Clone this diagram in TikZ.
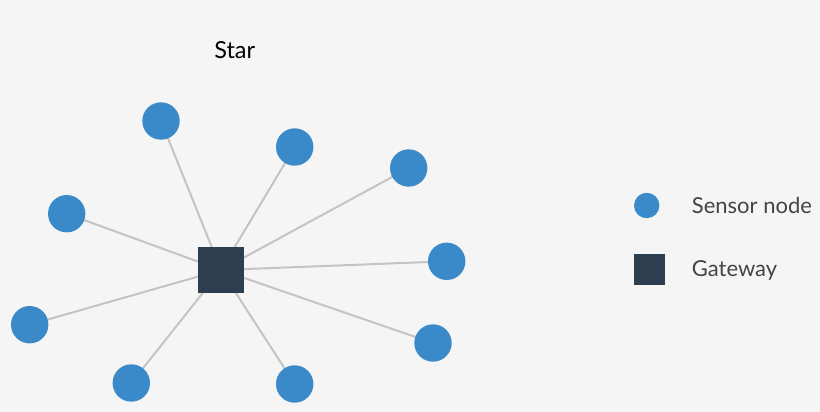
\documentclass[tikz,border=0pt]{standalone}
\usepackage{fontspec}
\setmainfont{Lato}
\definecolor{bg}{HTML}{F5F5F5}
\definecolor{sensor}{HTML}{3A89C9}
\definecolor{gw}{HTML}{2C3E50}
\definecolor{link}{HTML}{C4C4C4}
\definecolor{legtext}{HTML}{444444}
\tikzset{
  sensornode/.style={circle, fill=sensor, draw=none, minimum size=37.4pt, inner sep=0pt},
  gatewaynode/.style={rectangle, fill=gw, draw=none, minimum size=46.6pt, inner sep=0pt},
  legsensor/.style={circle, fill=sensor, draw=none, minimum size=25.4pt, inner sep=0pt},
  leggateway/.style={rectangle, fill=gw, draw=none, minimum size=30.7pt, inner sep=0pt},
  linkline/.style={draw=link, line width=2pt},
  legendlabel/.style={anchor=base west, inner sep=0pt, text=legtext, font=\fontsize{22pt}{26pt}\selectfont},
  titlelabel/.style={anchor=base, inner sep=0pt, text=black, font=\fontsize{23.5pt}{28pt}\selectfont}
}
\begin{document}
\begin{tikzpicture}[x=1pt,y=-1pt]
\fill[bg] (0,0) rectangle (820,412);
\useasboundingbox (0,0) rectangle (820,412);
\node[titlelabel] (title) at (234.7,58.3) {Star};
\coordinate (gc) at (221,270);
\coordinate (c1) at (161,121);
\coordinate (c2) at (294.7,147);
\coordinate (c3) at (408.7,168);
\coordinate (c4) at (66.7,213.7);
\coordinate (c5) at (446.7,261.3);
\coordinate (c6) at (29.7,324.7);
\coordinate (c7) at (433,343);
\coordinate (c8) at (131.3,383);
\coordinate (c9) at (294.7,384);
\foreach \i in {1,...,9} {
  \draw[linkline] (gc) -- (c\i);
}
\foreach \i in {1,...,9} {
  \node[sensornode] (s\i) at (c\i) {};
}
\node[gatewaynode] (gw) at (gc) {};
\node[legsensor] (ls) at (646.7,205.5) {};
\node[leggateway] (lg) at (649.7,269.3) {};
\node[legendlabel] (lst) at (691.7,213.3) {Sensor node};
\node[legendlabel] (lgt) at (691.7,276.3) {Gateway};
\end{tikzpicture}
\end{document}
